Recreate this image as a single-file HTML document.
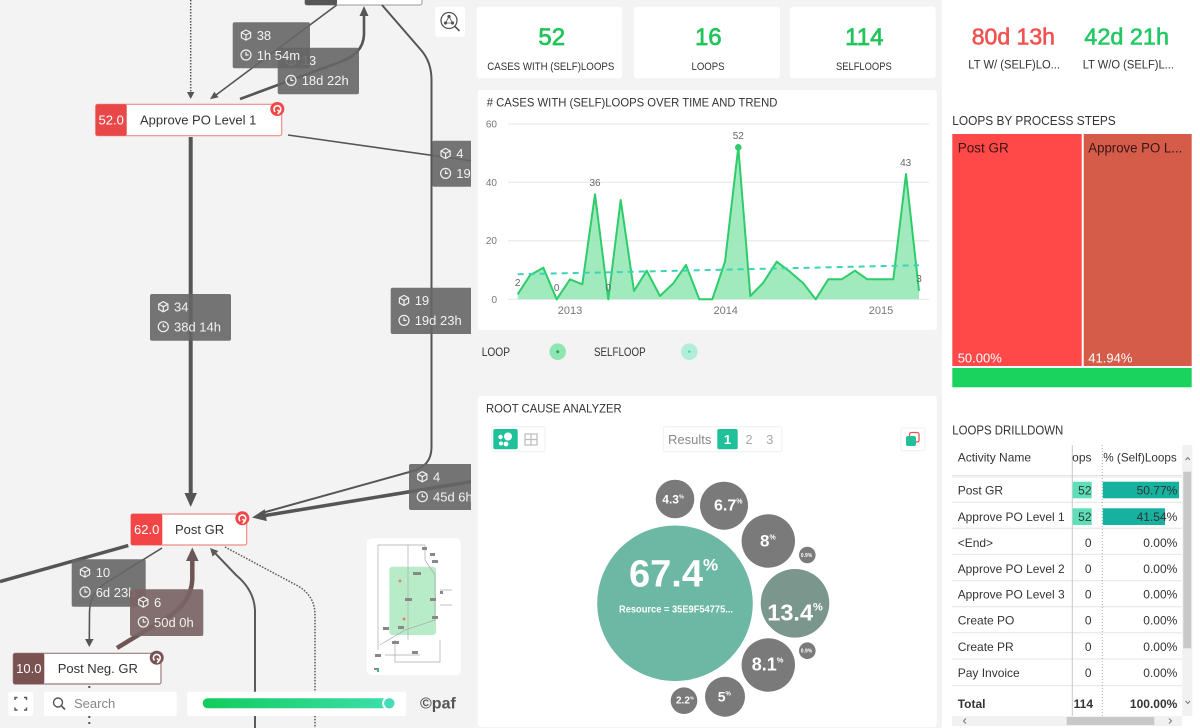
<!DOCTYPE html>
<html><head><meta charset="utf-8"><title>Loops Dashboard</title>
<style>
html,body{margin:0;padding:0;background:#f3f3f3;width:1200px;height:728px;overflow:hidden;}
svg{display:block;font-family:"Liberation Sans",sans-serif;}
</style></head><body>
<svg width="1200" height="728" viewBox="0 0 1200 728" xmlns="http://www.w3.org/2000/svg">
<defs>
  <g id="cube" fill="none" stroke="#f0f0f0" stroke-width="1.2" stroke-linejoin="round">
    <polygon points="0,-5 4.6,-2.5 4.6,2.6 0,5.1 -4.6,2.6 -4.6,-2.5"/>
    <path d="M-4.6,-2.5 L0,0 L4.6,-2.5 M0,0 L0,5.1"/>
  </g>
  <g id="clock" fill="none" stroke="#f0f0f0" stroke-width="1.2">
    <circle r="5"/>
    <path d="M0,-3 V0 H2.6"/>
  </g>
  <g id="loopw" fill="none" stroke="#fff" stroke-width="1.6" stroke-linecap="round">
    <path d="M-2.6,2.2 A3.4,3.4 0 1 1 2.4,2.6"/>
    <path d="M0.6,1.2 L2.6,2.8 L0.8,4.6"/>
  </g>
  <clipPath id="mapclip"><rect x="0" y="0" width="471" height="728"/></clipPath>
  <clipPath id="col2"><rect x="1072.5" y="440" width="28" height="280"/></clipPath>
  <linearGradient id="slg" x1="0" x2="1" y1="0" y2="0">
    <stop offset="0" stop-color="#12cc5c"/><stop offset="1" stop-color="#3ddfae"/>
  </linearGradient>
</defs>

<!-- ============ PROCESS MAP ============ -->
<g clip-path="url(#mapclip)">
  <rect x="0" y="0" width="471" height="728" fill="#f3f3f3"/>
  <rect x="305" y="-26" width="117" height="31" rx="2" fill="#fff" stroke="#9a9a9a"/>
  <rect x="305" y="-26" width="32" height="31" rx="2" fill="#555"/>

  <path d="M190.7,0 L190.7,93" stroke="#555" stroke-width="1.5" stroke-dasharray="1.5,1.5" fill="none"/>
  <polygon points="190.7,99 187,92 194.4,92" fill="#555"/>

  <path d="M336.7,5 L214,96.5" stroke="#555" stroke-width="1.6" fill="none"/>
  <polygon points="210,99.3 218.5,97.3 214.3,91.7" fill="#555"/>

  <path d="M240,99 L340,62 Q363,54 364,35 L364,16" stroke="#555" stroke-width="2.6" fill="none"/>
  <polygon points="364,6 359.5,16 368.5,16" fill="#555"/>

  <path d="M382,5 L421,50 Q431.5,62 431.5,80 L431.5,448 Q431,466 413,471 L260,513.5" stroke="#555" stroke-width="2" fill="none"/>

  <path d="M472,481.5 L262,516" stroke="#555" stroke-width="3.5" fill="none"/>
  <polygon points="252,517.5 266.8,521.1 264.8,509.3" fill="#555"/>

  <path d="M288,135 L472,161" stroke="#555" stroke-width="1.6" fill="none"/>

  <path d="M190.7,137 L190.7,496" stroke="#555" stroke-width="4" fill="none"/>
  <polygon points="190.7,507 184.5,493 196.9,493" fill="#555"/>

  <path d="M0,581.6 L128.3,545.5" stroke="#555" stroke-width="3.5" fill="none"/>

  <path d="M162,548 L104,584 Q90,594 89.5,612 L89.3,640" stroke="#555" stroke-width="1.6" fill="none"/>
  <polygon points="89.3,647 85,639 93.6,639" fill="#555"/>

  <path d="M117,648 L168,617 Q191,602 192.3,580 L192.3,560" stroke="#6e5656" stroke-width="4.5" fill="none"/>
  <polygon points="192.3,547.5 186,561 198.6,561" fill="#6e5656"/>

  <path d="M255,728 L255,610 Q254,590 236,575 L214,552" stroke="#5a5a5a" stroke-width="2" fill="none"/>
  <polygon points="210,548 218.4,551 212.6,556.6" fill="#5a5a5a"/>

  <path d="M225,547 L298,586 Q315,596 315,615 L315,728" stroke="#555" stroke-width="1.5" stroke-dasharray="1.5,1.5" fill="none"/>
  <path d="M89.3,686 L89.3,728" stroke="#555" stroke-width="2" stroke-dasharray="2,4" fill="none"/>

  <g font-size="13" fill="#f2f2f2">
    <g>
      <rect x="277.7" y="47.7" width="81.3" height="46.6" rx="2" fill="#666" opacity="0.9"/>
      <use href="#cube" x="291" y="60.4"/><text x="301.7" y="65.2">13</text>
      <use href="#clock" x="291" y="80.4"/><text x="301.7" y="85.2">18d 22h</text>
    </g>
    <g>
      <rect x="232.7" y="22.3" width="77.3" height="46" rx="2" fill="#666" opacity="0.9"/>
      <use href="#cube" x="246" y="35"/><text x="256.7" y="39.8">38</text>
      <use href="#clock" x="246" y="55"/><text x="256.7" y="59.8">1h 54m</text>
    </g>
    <g>
      <rect x="432.3" y="140.7" width="45" height="46" rx="2" fill="#666" opacity="0.9"/>
      <use href="#cube" x="445.6" y="153.4"/><text x="456.3" y="158.2">4</text>
      <use href="#clock" x="445.6" y="173.4"/><text x="456.3" y="178.2">19d 6h</text>
    </g>
    <g>
      <rect x="150" y="294" width="81" height="46.7" rx="2" fill="#666" opacity="0.9"/>
      <use href="#cube" x="163.3" y="306.7"/><text x="174" y="311.5">34</text>
      <use href="#clock" x="163.3" y="326.7"/><text x="174" y="331.5">38d 14h</text>
    </g>
    <g>
      <rect x="390.7" y="287.7" width="84" height="46.3" rx="2" fill="#666" opacity="0.9"/>
      <use href="#cube" x="404" y="300.4"/><text x="414.7" y="305.2">19</text>
      <use href="#clock" x="404" y="320.4"/><text x="414.7" y="325.2">19d 23h</text>
    </g>
    <g>
      <rect x="409" y="464" width="66" height="46" rx="2" fill="#666" opacity="0.9"/>
      <use href="#cube" x="422.3" y="476.7"/><text x="433" y="481.5">4</text>
      <use href="#clock" x="422.3" y="496.7"/><text x="433" y="501.5">45d 6h</text>
    </g>
    <g>
      <rect x="71.7" y="559.3" width="74" height="47.4" rx="2" fill="#666" opacity="0.9"/>
      <use href="#cube" x="85" y="572"/><text x="95.7" y="576.8">10</text>
      <use href="#clock" x="85" y="592"/><text x="95.7" y="596.8">6d 23h</text>
    </g>
    <g>
      <rect x="130" y="589.3" width="73.3" height="46.7" rx="2" fill="#7a6464" opacity="0.92"/>
      <use href="#cube" x="143.3" y="602"/><text x="154" y="606.8">6</text>
      <use href="#clock" x="143.3" y="622"/><text x="154" y="626.8">50d 0h</text>
    </g>
  </g>

  <rect x="95.7" y="104.3" width="186" height="31.4" rx="2" fill="#fff" stroke="#f08a8a" stroke-width="1.2"/>
  <rect x="95.7" y="104.3" width="31" height="31.4" rx="2" fill="#e84848"/>
  <text x="111.2" y="124.5" font-size="13" fill="#fff" text-anchor="middle">52.0</text>
  <text x="140" y="124.5" font-size="13" fill="#333">Approve PO Level 1</text>
  <circle cx="277.3" cy="109" r="7" fill="#f04848"/>
  <use href="#loopw" x="277.3" y="109"/>

  <rect x="131" y="514" width="115.7" height="31" rx="2" fill="#fff" stroke="#f08a8a" stroke-width="1.2"/>
  <rect x="131" y="514" width="31.3" height="31" rx="2" fill="#f24545"/>
  <text x="146.7" y="534" font-size="13" fill="#fff" text-anchor="middle">62.0</text>
  <text x="175" y="534" font-size="13" fill="#333">Post GR</text>
  <circle cx="242.3" cy="518.3" r="7" fill="#f04848"/>
  <use href="#loopw" x="242.3" y="518.3"/>

  <rect x="13.3" y="653.3" width="147.7" height="30.7" rx="2" fill="#fff" stroke="#9c7c7c" stroke-width="1.2"/>
  <rect x="13.3" y="653.3" width="31" height="30.7" rx="2" fill="#7a5252"/>
  <text x="28.8" y="673" font-size="13" fill="#fff" text-anchor="middle">10.0</text>
  <text x="57.7" y="673" font-size="13" fill="#333">Post Neg. GR</text>
  <circle cx="156.7" cy="657.7" r="7" fill="#7a5252"/>
  <use href="#loopw" x="156.7" y="657.7"/>

  <rect x="435" y="6.7" width="30" height="30" rx="3" fill="#fff"/>
  <circle cx="449" cy="20.5" r="8" fill="none" stroke="#555" stroke-width="1.3"/>
  <path d="M454.5,26 L459.5,31" stroke="#555" stroke-width="1.6"/>
  <circle cx="449" cy="16.5" r="1.6" fill="#555"/>
  <circle cx="445.5" cy="23" r="1.6" fill="#555"/>
  <circle cx="452.5" cy="23" r="1.6" fill="#555"/>
  <path d="M449,16.5 L445.5,23 L452.5,23 Z" fill="none" stroke="#555" stroke-width="0.8"/>

  <rect x="366.7" y="538.3" width="94" height="136.7" rx="5" fill="#fff"/>
  <rect x="389.3" y="566.7" width="46.7" height="68.3" rx="3" fill="#b8ecc9"/>
  <g stroke="#aaa" stroke-width="0.7" fill="none">
    <path d="M378,545 L378,650 M378,545 L408,545 L408,640 M408,545 L425,545 L425,560 L435,575 L435,620 L405,630 L380,645"/>
    <path d="M395,640 L395,662 L440,662 L440,640 M385,655 L420,655"/>
    <path d="M440,590 L452,590 M440,605 L452,605"/>
  </g>
  <g fill="#888">
    <rect x="422" y="547" width="5" height="3"/><rect x="430" y="553" width="5" height="3"/>
    <rect x="432" y="560" width="6" height="3"/><rect x="413" y="572" width="8" height="3"/>
    <rect x="405" y="598" width="7" height="3"/><rect x="430" y="598" width="6" height="3"/>
    <rect x="432" y="616" width="6" height="3"/><rect x="383" y="627" width="6" height="3"/>
    <rect x="398" y="626" width="6" height="3"/><rect x="392" y="641" width="7" height="3"/>
    <rect x="375" y="654" width="6" height="3"/><rect x="412" y="651" width="6" height="3"/>
    <rect x="374" y="668" width="5" height="2"/><rect x="440" y="591" width="3" height="3"/>
  </g>
  <circle cx="400" cy="581" r="1.5" fill="#e08a5a"/>
  <circle cx="404" cy="619" r="1.5" fill="#e08a5a"/>
  <circle cx="378" cy="671" r="1.2" fill="#22cc66"/>

  <rect x="8.3" y="691.7" width="25" height="24.3" rx="3" fill="#fff"/>
  <path d="M15,700 V697.5 H17.5 M24,697.5 H26.5 V700 M26.5,707.5 V710 H24 M17.5,710 H15 V707.5" stroke="#555" stroke-width="1.4" fill="none"/>
  <rect x="44" y="691.7" width="132.7" height="24.3" rx="2" fill="#fff"/>
  <circle cx="58" cy="702.5" r="4.5" fill="none" stroke="#555" stroke-width="1.4"/>
  <path d="M61.3,705.8 L65,709.5" stroke="#555" stroke-width="1.6"/>
  <text x="74" y="708" font-size="13" fill="#888">Search</text>
  <rect x="187.3" y="691.7" width="218.7" height="24.3" rx="2" fill="#fff"/>
  <rect x="202.7" y="698.3" width="192.3" height="10" rx="5" fill="url(#slg)"/>
  <circle cx="389.3" cy="703.3" r="6.2" fill="#45ddb5" stroke="#fff" stroke-width="2"/>
  <text x="420" y="708.5" font-size="16" font-weight="bold" fill="#555">©paf</text>
</g>

<!-- ============ MIDDLE COLUMN ============ -->
<rect x="476.7" y="6.7" width="145.6" height="71.6" rx="3" fill="#fff"/>
<rect x="634" y="6.7" width="146" height="71.6" rx="3" fill="#fff"/>
<rect x="790" y="6.7" width="145.7" height="71.6" rx="3" fill="#fff"/>
<g fill="#21c45a" stroke="#21c45a" stroke-width="0.7" font-size="24" text-anchor="middle">
  <text x="551.7" y="45">52</text>
  <text x="708.3" y="45">16</text>
  <text x="864.3" y="45">114</text>
</g>
<g fill="#333" font-size="11">
  <text x="487.3" y="70" textLength="127" lengthAdjust="spacingAndGlyphs">CASES WITH (SELF)LOOPS</text>
  <text x="691.5" y="70" textLength="33" lengthAdjust="spacingAndGlyphs">LOOPS</text>
  <text x="836" y="70" textLength="55.7" lengthAdjust="spacingAndGlyphs">SELFLOOPS</text>
</g>

<rect x="477.7" y="90" width="459" height="240" rx="3" fill="#fff"/>
<text x="486.7" y="106.7" font-size="12" fill="#333" textLength="290.7" lengthAdjust="spacingAndGlyphs"># CASES WITH (SELF)LOOPS OVER TIME AND TREND</text>
<g stroke="#e6e6e6" stroke-width="1">
  <line x1="508" y1="124" x2="929" y2="124"/>
  <line x1="508" y1="182.3" x2="929" y2="182.3"/>
  <line x1="508" y1="240.7" x2="929" y2="240.7"/>
  <line x1="508" y1="299.3" x2="929" y2="299.3"/>
</g>
<g font-size="10" fill="#777" text-anchor="end">
  <text x="497" y="127.5">60</text>
  <text x="497" y="185.8">40</text>
  <text x="497" y="244.2">20</text>
  <text x="497" y="302.8">0</text>
</g>
<g font-size="11" fill="#777" text-anchor="middle">
  <text x="570" y="314">2013</text>
  <text x="725.7" y="314">2014</text>
  <text x="881" y="314">2015</text>
</g>
<polygon fill="#8fe6b2" fill-opacity="0.85" points="517.7,299.3 517.7,294.3 530,275.3 543.3,267.7 556.7,299.3 570,279.3 582.3,284.3 595,194.3 608.3,299.3 620.7,200 634,291 646.7,270.7 660,296 673.3,283.3 686,265 699.3,299.3 712.3,299.3 725,261.7 738.3,147.3 750.3,296 763.3,282.7 776.7,261.7 790,271.7 803.3,283.3 815.7,299.3 828.3,279.3 841.7,279.3 855,270.7 867.3,279.3 881,279.3 893.3,279.3 906,174 919,291 919,299.3"/>
<polyline fill="none" stroke="#2ecc6a" stroke-width="2" stroke-linejoin="round" points="517.7,294.3 530,275.3 543.3,267.7 556.7,299.3 570,279.3 582.3,284.3 595,194.3 608.3,299.3 620.7,200 634,291 646.7,270.7 660,296 673.3,283.3 686,265 699.3,299.3 712.3,299.3 725,261.7 738.3,147.3 750.3,296 763.3,282.7 776.7,261.7 790,271.7 803.3,283.3 815.7,299.3 828.3,279.3 841.7,279.3 855,270.7 867.3,279.3 881,279.3 893.3,279.3 906,174 919,291"/>
<line x1="517.7" y1="274.3" x2="919" y2="265.3" stroke="#3dd4b4" stroke-width="2" stroke-dasharray="6,5"/>
<circle cx="738.3" cy="147.3" r="3.3" fill="#2ecc6a"/>
<g font-size="10" fill="#666" text-anchor="middle">
  <text x="517.7" y="286">2</text>
  <text x="556.7" y="291">0</text>
  <text x="595" y="186">36</text>
  <text x="608.3" y="291">0</text>
  <text x="738.3" y="139">52</text>
  <text x="905.7" y="166">43</text>
  <text x="919" y="282">3</text>
</g>

<g font-size="11.5" fill="#333">
  <text x="481.7" y="356" textLength="28.3" lengthAdjust="spacingAndGlyphs">LOOP</text>
  <text x="594" y="356" textLength="51.7" lengthAdjust="spacingAndGlyphs">SELFLOOP</text>
</g>
<circle cx="557.7" cy="351.7" r="8.3" fill="#8fe6b2"/>
<circle cx="557.7" cy="351.7" r="1.5" fill="#2a9d5a"/>
<circle cx="689.3" cy="351.7" r="8.3" fill="#b0eedb"/>
<circle cx="689.3" cy="351.7" r="1.2" fill="#4dc9aa"/>

<rect x="477.7" y="396" width="459" height="331" rx="3" fill="#fff"/>
<text x="486" y="412.7" font-size="12" fill="#333" textLength="135.7" lengthAdjust="spacingAndGlyphs">ROOT CAUSE ANALYZER</text>
<rect x="491.7" y="426.7" width="53.3" height="25" rx="2" fill="#fff" stroke="#f0f0f0"/>
<rect x="493.3" y="429" width="24.4" height="20.3" rx="2" fill="#20c09a"/>
<circle cx="508" cy="436.5" r="4" fill="#fff"/>
<circle cx="500.5" cy="437" r="2.2" fill="#fff"/>
<circle cx="501" cy="443.5" r="2" fill="#fff"/>
<circle cx="506" cy="444" r="2.4" fill="#fff"/>
<g stroke="#bbb" stroke-width="1.2" fill="none">
  <rect x="525" y="434" width="12" height="11"/>
  <path d="M531,434 V445 M525,439.5 H537"/>
</g>
<rect x="663.3" y="426.7" width="118.4" height="25" rx="2" fill="#fff" stroke="#f0f0f0"/>
<text x="668" y="444" font-size="13" fill="#888">Results</text>
<rect x="717.3" y="429" width="20.4" height="20.3" rx="2" fill="#20c09a"/>
<text x="727.5" y="444" font-size="13" font-weight="bold" fill="#fff" text-anchor="middle">1</text>
<text x="749" y="444" font-size="13" fill="#aaa" text-anchor="middle">2</text>
<text x="769.7" y="444" font-size="13" fill="#aaa" text-anchor="middle">3</text>
<rect x="901" y="428" width="24" height="22.7" rx="2" fill="#fff" stroke="#f0f0f0"/>
<rect x="909.5" y="432.5" width="9.5" height="9.5" rx="2" fill="none" stroke="#f05050" stroke-width="1.3"/>
<rect x="906" y="436" width="10" height="10" rx="2" fill="#20c09a"/>

<g fill="#7a7a7a">
  <circle cx="675" cy="499" r="19.3"/>
  <circle cx="724" cy="505.7" r="24"/>
  <circle cx="768.3" cy="541" r="26.7"/>
  <circle cx="807.3" cy="555" r="8.3"/>
  <circle cx="807.3" cy="650.7" r="8.3"/>
  <circle cx="768.3" cy="665" r="26.7"/>
  <circle cx="725" cy="696.7" r="20"/>
  <circle cx="684" cy="700.7" r="13.3"/>
</g>
<circle cx="795" cy="603.3" r="34.3" fill="#7a968d"/>
<circle cx="675" cy="603.3" r="77.8" fill="#6cb8a4"/>
<g fill="#fff" font-weight="bold">
  <text x="629" y="586.7" font-size="38">67.4<tspan font-size="17" dy="-16">%</tspan></text>
  <text x="676" y="612.7" font-size="10" text-anchor="middle" textLength="114" lengthAdjust="spacingAndGlyphs">Resource = 35E9F54775...</text>
  <text x="767.3" y="620.7" font-size="23.5">13.4<tspan font-size="11" dy="-10">%</tspan></text>
  <text x="714" y="510.7" font-size="16">6.7<tspan font-size="7" dy="-7">%</tspan></text>
  <text x="760" y="546.7" font-size="17">8<tspan font-size="7" dy="-7">%</tspan></text>
  <text x="662.3" y="503.3" font-size="12">4.3<tspan font-size="5.5" dy="-5">%</tspan></text>
  <text x="751.7" y="670.7" font-size="18">8.1<tspan font-size="7.5" dy="-8">%</tspan></text>
  <text x="717.7" y="701.7" font-size="14">5<tspan font-size="6" dy="-6">%</tspan></text>
  <text x="676" y="703.3" font-size="10">2.2<tspan font-size="4.5" dy="-4">%</tspan></text>
  <text x="806.5" y="557" font-size="5" text-anchor="middle">0.9%</text>
  <text x="806.5" y="652.7" font-size="5" text-anchor="middle">0.9%</text>
</g>

<!-- ============ RIGHT COLUMN ============ -->
<rect x="942" y="0" width="258" height="728" fill="#fff"/>
<text x="971.7" y="44.3" font-size="23" fill="#f05252" stroke="#f05252" stroke-width="0.6" textLength="83.3" lengthAdjust="spacingAndGlyphs">80d 13h</text>
<text x="1084.3" y="44.3" font-size="23" fill="#22c863" stroke="#22c863" stroke-width="0.6" textLength="84.7" lengthAdjust="spacingAndGlyphs">42d 21h</text>
<text x="968.3" y="68.3" font-size="11.5" fill="#333" textLength="91.7" lengthAdjust="spacingAndGlyphs">LT W/ (SELF)LO...</text>
<text x="1082.7" y="68.3" font-size="11.5" fill="#333" textLength="91.3" lengthAdjust="spacingAndGlyphs">LT W/O (SELF)L...</text>

<text x="952.3" y="125" font-size="13" fill="#333" textLength="163.4" lengthAdjust="spacingAndGlyphs">LOOPS BY PROCESS STEPS</text>
<rect x="952.3" y="134" width="129.4" height="232" fill="#ff4848"/>
<rect x="1083.7" y="134" width="108" height="232" fill="#d65c4a"/>
<rect x="952.3" y="368" width="239.4" height="19.3" fill="#19d35e"/>
<text x="957.7" y="152.7" font-size="13.5" fill="#3a1515">Post GR</text>
<text x="1088.3" y="152.7" font-size="13.5" fill="#3a1515" textLength="94" lengthAdjust="spacingAndGlyphs">Approve PO L...</text>
<text x="957.7" y="362.7" font-size="13" fill="#fff">50.00%</text>
<text x="1088.3" y="362.7" font-size="13" fill="#fff">41.94%</text>

<text x="952.3" y="434.7" font-size="12.5" fill="#333" textLength="111" lengthAdjust="spacingAndGlyphs">LOOPS DRILLDOWN</text>

<g stroke="#e4e4e4" stroke-width="1">
  <line x1="952" y1="475.5" x2="1182" y2="475.5"/>
  <line x1="952" y1="477" x2="1182" y2="477"/>
  <line x1="952" y1="502.3" x2="1182" y2="502.3"/>
  <line x1="952" y1="528.3" x2="1182" y2="528.3"/>
  <line x1="952" y1="554.3" x2="1182" y2="554.3"/>
  <line x1="952" y1="580.7" x2="1182" y2="580.7"/>
  <line x1="952" y1="606.7" x2="1182" y2="606.7"/>
  <line x1="952" y1="632.7" x2="1182" y2="632.7"/>
  <line x1="952" y1="659" x2="1182" y2="659"/>
  <line x1="952" y1="685.7" x2="1182" y2="685.7"/>
</g>
<line x1="1072.3" y1="445" x2="1072.3" y2="716" stroke="#c8c8c8"/>
<line x1="1102.3" y1="445" x2="1102.3" y2="716" stroke="#aaa" stroke-dasharray="1,2"/>
<rect x="1072.7" y="481.7" width="19" height="16.6" fill="#5ddfb8"/>
<rect x="1072.7" y="508.3" width="19" height="16.7" fill="#5ddfb8"/>
<rect x="1102.8" y="481.7" width="76.2" height="16.6" fill="#17b29f"/>
<rect x="1102.8" y="508.3" width="62.2" height="16.7" fill="#17b29f"/>
<g font-size="12" fill="#333">
  <text x="957.7" y="461.7">Activity Name</text>
  <text x="1103.3" y="461.7" textLength="73.4" lengthAdjust="spacingAndGlyphs">% (Self)Loops</text>
  <text x="957.7" y="494.3">Post GR</text>
  <text x="957.7" y="521" textLength="107" lengthAdjust="spacingAndGlyphs">Approve PO Level 1</text>
  <text x="957.7" y="547">&lt;End&gt;</text>
  <text x="957.7" y="573" textLength="107" lengthAdjust="spacingAndGlyphs">Approve PO Level 2</text>
  <text x="957.7" y="598.7" textLength="107" lengthAdjust="spacingAndGlyphs">Approve PO Level 3</text>
  <text x="957.7" y="624.7">Create PO</text>
  <text x="957.7" y="651">Create PR</text>
  <text x="957.7" y="677">Pay Invoice</text>
  <text x="957.7" y="708" font-weight="bold">Total</text>
  <g text-anchor="end">
    <text x="1177.3" y="494.3">50.77%</text>
    <text x="1177.3" y="521">41.54%</text>
    <text x="1177.3" y="547">0.00%</text>
    <text x="1177.3" y="573">0.00%</text>
    <text x="1177.3" y="598.7">0.00%</text>
    <text x="1177.3" y="624.7">0.00%</text>
    <text x="1177.3" y="651">0.00%</text>
    <text x="1177.3" y="677">0.00%</text>
    <text x="1177.3" y="708" font-weight="bold">100.00%</text>
  </g>
  <g text-anchor="end" clip-path="url(#col2)">
    <text x="1091.5" y="461.7">Loops</text>
    <text x="1091.5" y="494.3">52</text>
    <text x="1091.5" y="521">52</text>
    <text x="1091.5" y="547">0</text>
    <text x="1091.5" y="573">0</text>
    <text x="1091.5" y="598.7">0</text>
    <text x="1091.5" y="624.7">0</text>
    <text x="1091.5" y="651">0</text>
    <text x="1091.5" y="677">0</text>
    <text x="1093" y="708" font-weight="bold">114</text>
  </g>
</g>
<rect x="1182.3" y="445" width="10" height="271" fill="#f1f1f1"/>
<rect x="1183.3" y="471.7" width="8" height="176.6" fill="#c8c8c8"/>
<path d="M1185.5,460 L1187.8,457.5 L1190,460" stroke="#777" stroke-width="1" fill="none"/>
<path d="M1185.5,701 L1187.8,703.5 L1190,701" stroke="#777" stroke-width="1" fill="none"/>
<rect x="952" y="716" width="230" height="10" fill="#f1f1f1"/>
<rect x="1066.7" y="717" width="87.6" height="8" fill="#c8c8c8"/>
<path d="M966,718.5 L963.5,721 L966,723.5" stroke="#777" stroke-width="1" fill="none"/>
<path d="M1169,718.5 L1171.5,721 L1169,723.5" stroke="#777" stroke-width="1" fill="none"/>
</svg>
</body></html>
